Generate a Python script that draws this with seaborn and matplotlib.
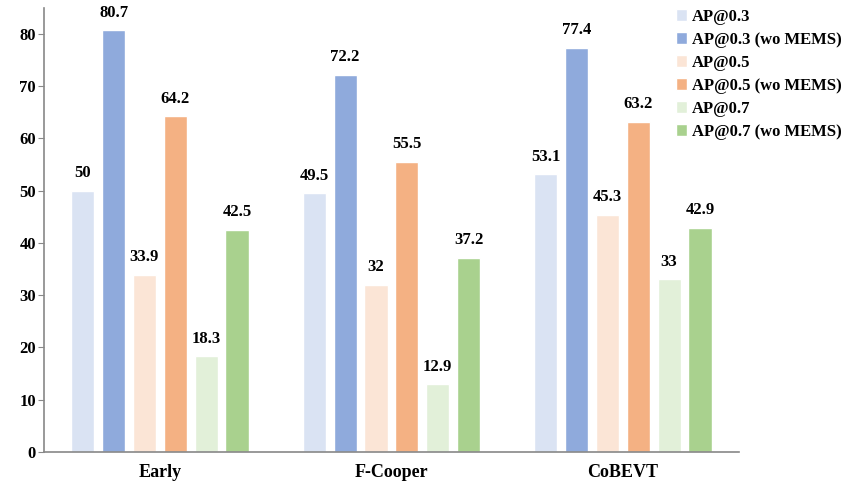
import pandas as pd
import matplotlib.pyplot as plt
import seaborn as sns
from matplotlib.patches import Patch

# data
methods = ['Early', 'F-Cooper', 'CoBEVT']
series = ['AP@0.3', 'AP@0.3 (wo MEMS)', 'AP@0.5', 'AP@0.5 (wo MEMS)', 'AP@0.7', 'AP@0.7 (wo MEMS)']
ap03 = [50, 49.5, 53.1]
ap03_wo = [80.7, 72.2, 77.4]
ap05 = [33.9, 32, 45.3]
ap05_wo = [64.2, 55.5, 63.2]
ap07 = [18.3, 12.9, 33]
ap07_wo = [42.5, 37.2, 42.9]

values = [ap03, ap03_wo, ap05, ap05_wo, ap07, ap07_wo]
rows = []
for s, vals in zip(series, values):
    for m, v in zip(methods, vals):
        rows.append({'Method': m, 'Series': s, 'AP': v})
df = pd.DataFrame(rows)

colors = ['#DAE3F3', '#8FAADC', '#FBE5D6', '#F4B183', '#E2F0D9', '#A9D18E']

sns.set_style("white")
plt.rcParams['font.family'] = ['Liberation Serif', 'DejaVu Serif']
plt.rcParams['font.weight'] = 'bold'
plt.rcParams['text.color'] = 'black'
plt.rcParams['xtick.color'] = 'black'
plt.rcParams['ytick.color'] = 'black'

fig = plt.figure(figsize=(8.49, 4.88), dpi=100)
ax = fig.add_axes([0.052, 0.074, 0.818, 0.91])

sns.barplot(data=df, x='Method', y='AP', hue='Series', hue_order=series,
            palette=colors, gap=0.25, saturation=1, ax=ax, legend=False)

for cont in ax.containers:
    ax.bar_label(cont, fmt='%g', padding=7, fontsize=12, fontweight='bold')

ax.set_ylim(0, 85)
ax.set_xlim(-0.5, 2.5)
ax.set_yticks(range(0, 81, 10))
ax.set_xlabel('')
ax.set_ylabel('')
ax.tick_params(axis='y', left=True, length=4, color='#888888', labelsize=12, pad=2)
ax.tick_params(axis='x', bottom=False, labelsize=13, pad=5)
for lab in ax.get_xticklabels() + ax.get_yticklabels():
    lab.set_fontweight('bold')
for sp in ['top', 'right']:
    ax.spines[sp].set_visible(False)
for sp in ['left', 'bottom']:
    ax.spines[sp].set_color('#888888')
    ax.spines[sp].set_linewidth(1.2)

handles = [Patch(facecolor=c, label=s) for c, s in zip(colors, series)]
fig.legend(handles=handles, loc='upper left', bbox_to_anchor=(0.778, 1.012),
           frameon=False, handlelength=0.7, handleheight=0.7,
           handletextpad=0.3, labelspacing=0.42, prop={'weight': 'bold', 'size': 12})

fig.savefig('out.png', dpi=100)
